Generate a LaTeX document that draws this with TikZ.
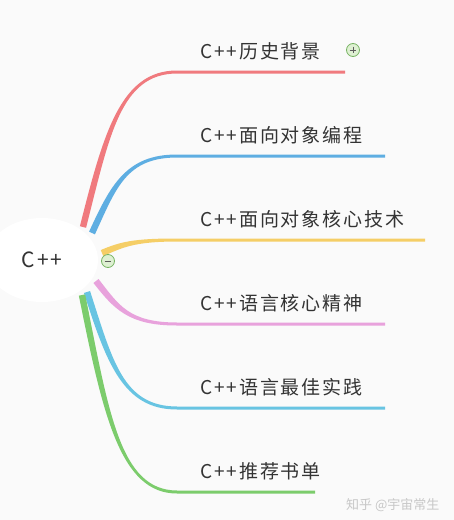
\documentclass[tikz,border=0pt]{standalone}
\usepackage{fontspec}
\setmainfont{Noto Sans CJK SC}
\newfontfamily\topicfont[LetterSpace=10]{Noto Sans CJK SC}
\usepackage{xcolor}
\usetikzlibrary{shapes.geometric,calc,positioning}
\definecolor{bgray}{RGB}{250,250,250}
\definecolor{textgray}{RGB}{51,51,51}
\definecolor{bred}{RGB}{240,122,126}
\definecolor{bblue}{RGB}{94,174,226}
\definecolor{byellow}{RGB}{245,206,102}
\definecolor{bpink}{RGB}{232,162,220}
\definecolor{bcyan}{RGB}{104,196,226}
\definecolor{bgreen}{RGB}{124,204,108}
\definecolor{togfill}{RGB}{222,240,210}
\definecolor{togline}{RGB}{120,180,100}

\begin{document}
\begin{tikzpicture}[x=1pt,y=-1pt,
    topic/.style={font=\topicfont\fontsize{19}{21}\selectfont, text=textgray,
                  anchor=base west, inner sep=0pt},
    rootnode/.style={ellipse, fill=white, minimum width=112pt, minimum height=84pt,
                     font=\topicfont\fontsize{21}{24}\selectfont, text=textgray},
    toggle/.style={circle, draw=togline, fill=togfill, line width=0.8pt,
                   minimum size=13pt, inner sep=0pt},
    sign/.style={line width=0.9pt, draw=textgray!80}
]
% canvas
\fill[bgray] (0,0) rectangle (454,520);
\useasboundingbox (0,0) rectangle (454,520);

% central topic
\node[rootnode] (root) at (42,260) {C++};

% branches: curve from the root, then a flat underline under each topic
\foreach \n/\col/\sx/\sy/\ey/\lx/\txt in {
    1/bred/83/227/72/345/{C++历史背景},
    2/bblue/92/233/156/385/{C++面向对象编程},
    3/byellow/102/253/240/425/{C++面向对象核心技术},
    4/bpink/96/281/324/385/{C++语言核心精神},
    5/bcyan/87/292/408/385/{C++语言最佳实践},
    6/bgreen/82/295/492/315/{C++推荐书单}}{
  \coordinate (s\n) at (\sx,\sy);
  \coordinate (e\n) at (177,\ey);
  \coordinate (l\n) at (\lx,\ey);
  \coordinate (p\n) at ($(s\n)!0.25!(e\n)$);
  \coordinate (q\n) at ($(s\n)!0.6!(e\n)$);
  \coordinate (r\n) at ($(s\n)!0.4!(e\n)$);
  \coordinate (a\n) at (p\n |- q\n);
  \coordinate (b\n) at (r\n |- e\n);
  \coordinate (u\n) at ($(s\n)!3.2pt!90:(a\n)$);
  \coordinate (v\n) at ($(s\n)!3.2pt!-90:(a\n)$);
  \fill[\col] (u\n) .. controls ($(a\n)+(u\n)-(s\n)$) and ($(b\n)+(0,-1.6)$)
      .. ($(e\n)+(0,-1.5)$) -- ($(l\n)+(0,-1.5)$) -- ($(l\n)+(0,1.5)$)
      -- ($(e\n)+(0,1.5)$) .. controls ($(b\n)+(0,1.6)$) and ($(a\n)+(v\n)-(s\n)$)
      .. (v\n) -- cycle;
  \node[topic] (t\n) at (200,\ey-14) {\txt};
}

% collapse / expand buttons
\node[toggle] (minus) at (108,261) {};
\draw[sign] ($(minus.center)+(-3.4,0)$) -- ($(minus.center)+(3.4,0)$);
\node[toggle] (plus) at (353,50) {};
\draw[sign] ($(plus.center)+(-3.4,0)$) -- ($(plus.center)+(3.4,0)$);
\draw[sign] ($(plus.center)+(0,-3.4)$) -- ($(plus.center)+(0,3.4)$);

% watermark
\node[font=\fontsize{13}{15}\selectfont, text=black!22, anchor=base west, inner sep=0pt]
    (mark) at (346,509) {知乎 @宇宙常生};
\end{tikzpicture}
\end{document}
